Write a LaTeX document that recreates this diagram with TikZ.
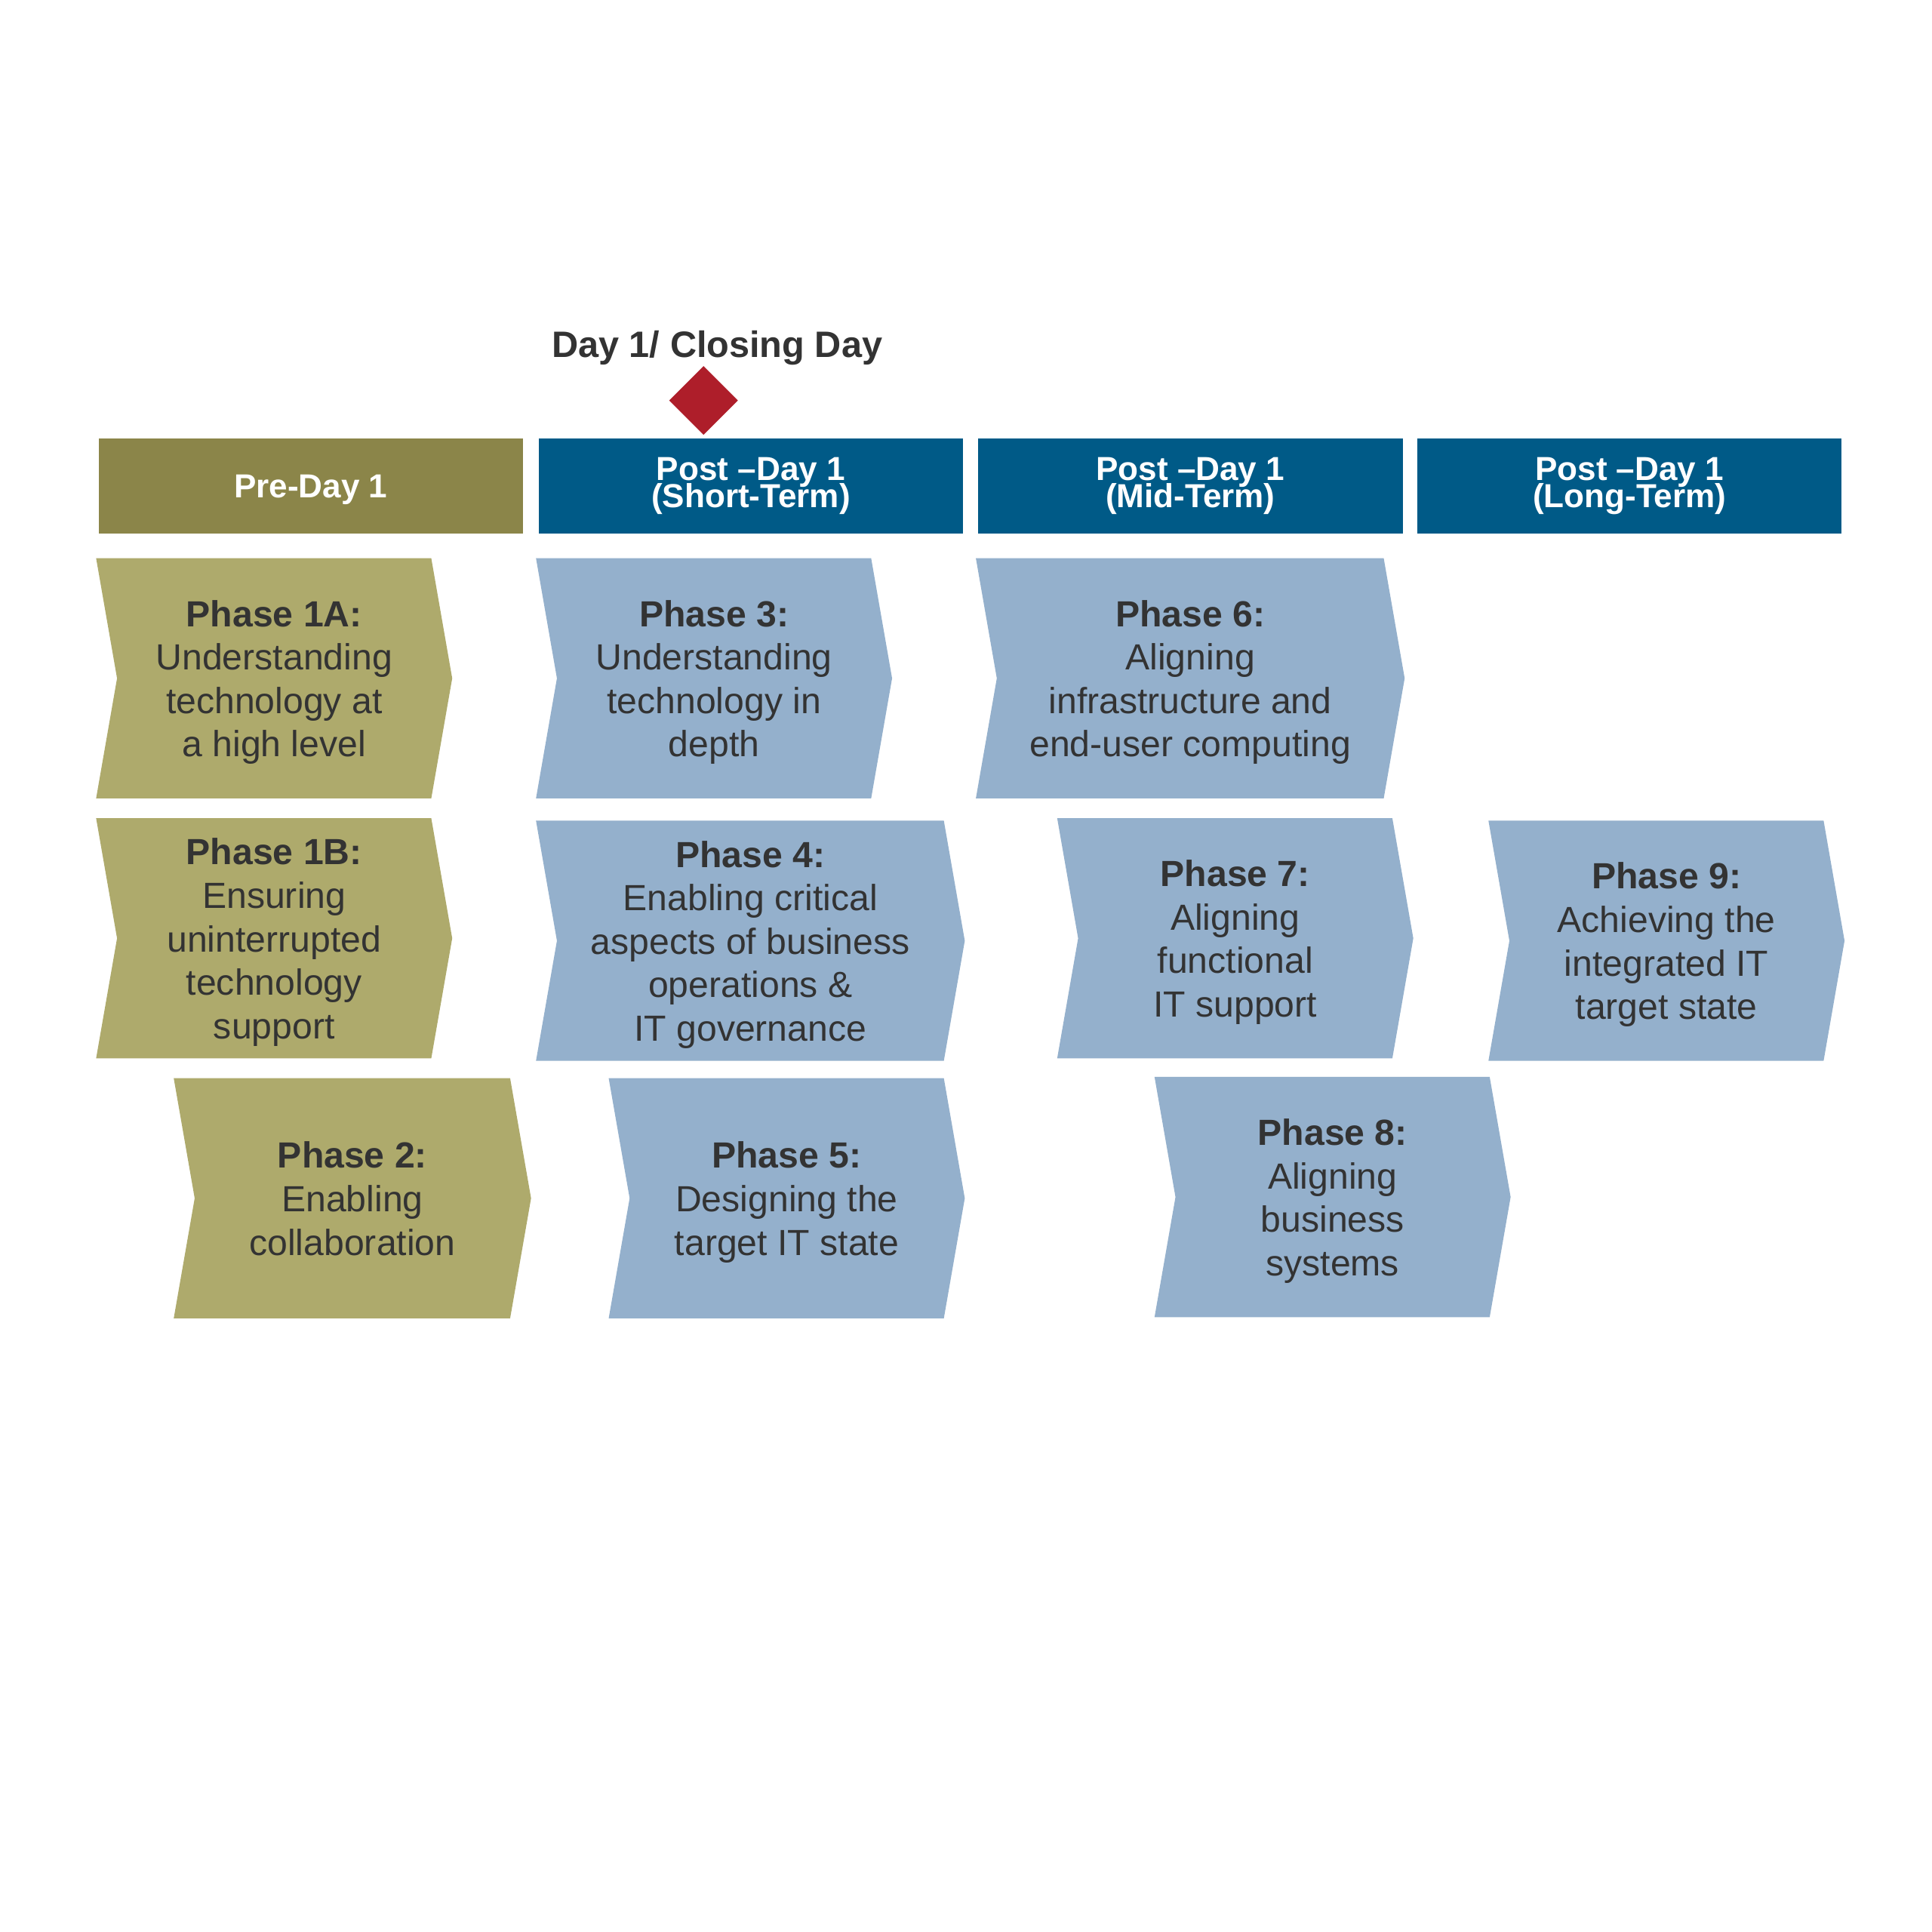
\documentclass[tikz,border=0pt]{standalone}
\usepackage{fontspec}
\setmainfont{Liberation Sans}
\usepackage{tikz}
\usetikzlibrary{shapes.geometric}

\definecolor{headolive}{RGB}{139,133,73}
\definecolor{chevolive}{RGB}{174,170,108}
\definecolor{headblue}{RGB}{0,90,135}
\definecolor{chevblue}{RGB}{148,176,204}
\definecolor{closingred}{RGB}{174,30,42}
\definecolor{darktext}{RGB}{51,51,51}

% tight two-line headers
\setlength{\lineskiplimit}{-100pt}

% chevron with its text: name, left x, top y, body width, fill, text
\newcommand{\phasechev}[6]{%
  \fill[#5] (#2,#3) -- ++(#4,0) -- ++(17,97.5) -- ++(-17,97.5) -- ++(-#4,0) -- ++(17,-97.5) -- cycle;
  \node[phasetext] (#1) at ({#2+(#4+17)/2},{#3+97.5}) {\strut#6\strut};}

\begin{document}
\begin{tikzpicture}[x=0.5pt, y=-0.5pt,
  header/.style={minimum width=172.25pt, minimum height=38.5pt, inner sep=0pt, text=white, align=center, font=\bfseries\fontsize{13.5}{11}\selectfont},
  phasetext/.style={text=darktext, align=center, inner sep=0pt, yshift=-1.9pt, font=\fontsize{14.75}{17.65}\selectfont}]
  \useasboundingbox[fill=white] (0,0) rectangle (1568,1568);

  % milestone
  \node[text=darktext, anchor=base, font=\bfseries\fontsize{14.9}{17}\selectfont] (title) at (582,290) {Day 1/ Closing Day};
  \node[diamond, fill=closingred, minimum width=28pt, minimum height=28pt, inner sep=0pt] (closing) at (571,325) {};

  % period headers
  \node[header, fill=headolive, text height=9.7pt, text depth=0pt] (pre) at (252.25,394.5) {Pre-Day 1};
  \node[header, fill=headblue] (short) at (609.4,394.5) {Post –Day 1\\(Short-Term)};
  \node[header, fill=headblue] (mid) at (966.1,394.5) {Post –Day 1\\(Mid-Term)};
  \node[header, fill=headblue] (long) at (1322.5,394.5) {Post –Day 1\\(Long-Term)};

  % pre-day 1 phases
  \phasechev{p1a}{78}{453}{272}{chevolive}{\textbf{Phase 1A:}\\Understanding\\technology at\\a high level}
  \phasechev{p1b}{78}{664}{272}{chevolive}{\textbf{Phase 1B:}\\Ensuring\\uninterrupted\\technology\\support}
  \phasechev{p2}{141}{875}{273}{chevolive}{\textbf{Phase 2:}\\Enabling\\collaboration}

  % post-day 1 phases
  \phasechev{p3}{435}{453}{272}{chevblue}{\textbf{Phase 3:}\\Understanding\\technology in\\depth}
  \phasechev{p4}{435}{666}{331}{chevblue}{\textbf{Phase 4:}\\Enabling critical\\aspects of business\\operations \&\\IT governance}
  \phasechev{p5}{494}{875}{272}{chevblue}{\textbf{Phase 5:}\\Designing the\\target IT state}
  \phasechev{p6}{792}{453}{331}{chevblue}{\textbf{Phase 6:}\\Aligning\\infrastructure and\\end-user computing}
  \phasechev{p7}{858}{664}{272}{chevblue}{\textbf{Phase 7:}\\Aligning\\functional\\IT support}
  \phasechev{p8}{937}{874}{272}{chevblue}{\textbf{Phase 8:}\\Aligning\\business\\systems}
  \phasechev{p9}{1208}{666}{272}{chevblue}{\textbf{Phase 9:}\\Achieving the\\integrated IT\\target state}
\end{tikzpicture}
\end{document}
